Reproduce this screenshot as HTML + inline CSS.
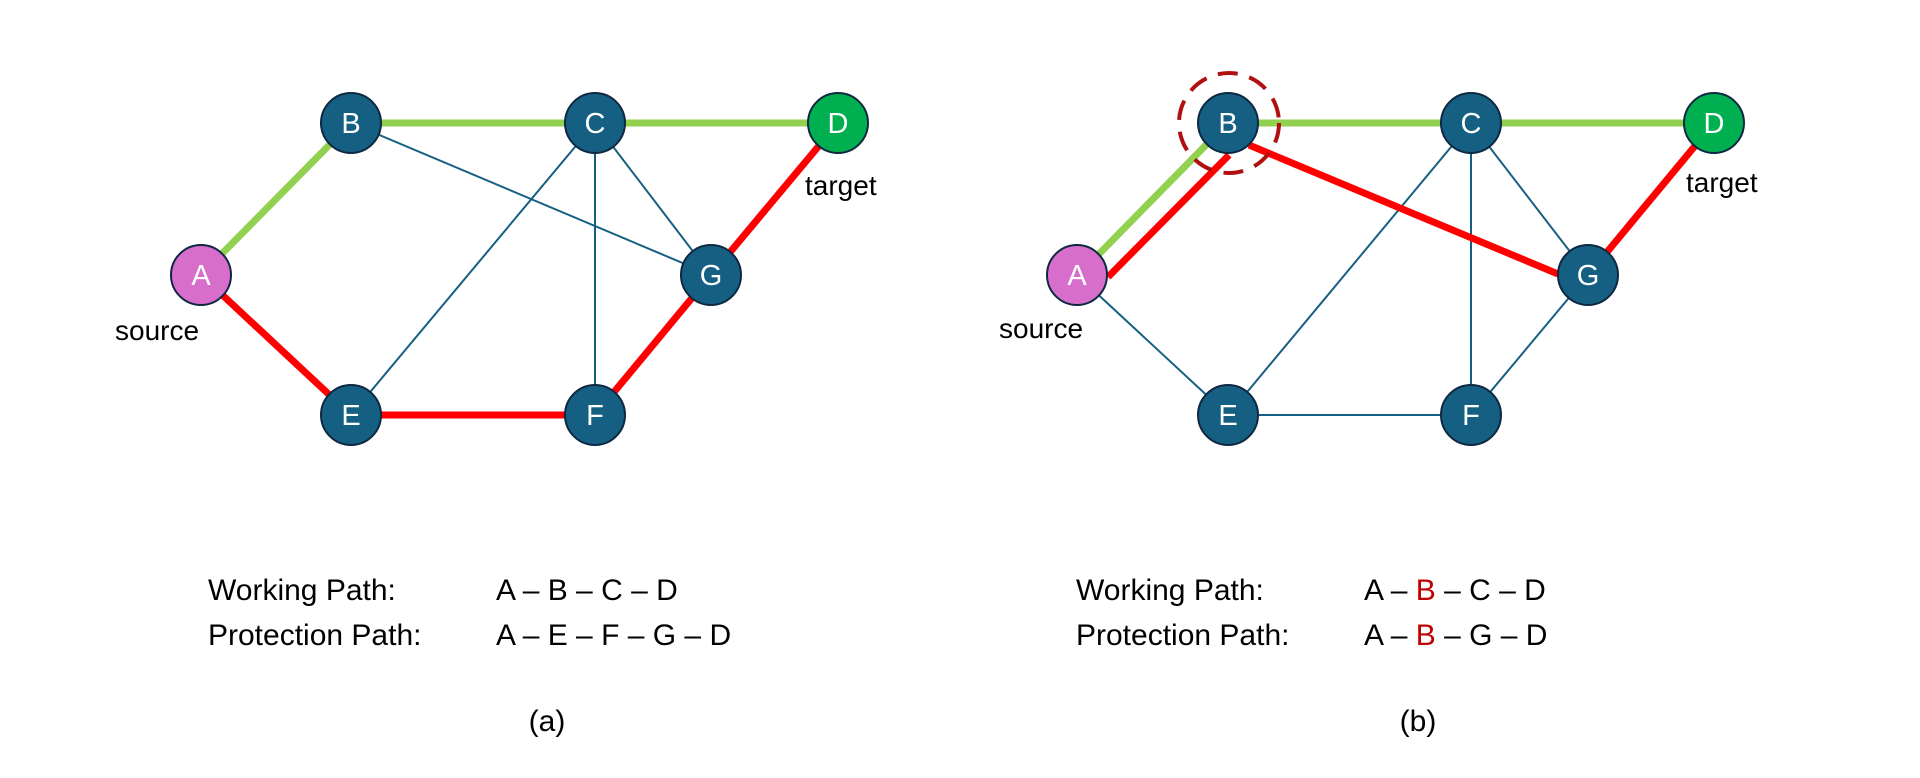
<!DOCTYPE html>
<html><head><meta charset="utf-8"><style>
html,body{margin:0;padding:0;background:#fff;}
svg{display:block;}
text{font-family:"Liberation Sans",sans-serif;}
</style></head><body>
<svg width="1920" height="778" viewBox="0 0 1920 778" xmlns="http://www.w3.org/2000/svg">
<rect width="1920" height="778" fill="#fff"/>
<!-- Panel (a) -->
<g stroke-linecap="butt">
<line x1="351" y1="123" x2="711" y2="275" stroke="#156082" stroke-width="2"/>
<line x1="595" y1="123" x2="351" y2="415" stroke="#156082" stroke-width="2"/>
<line x1="595" y1="123" x2="595" y2="415" stroke="#156082" stroke-width="2"/>
<line x1="595" y1="123" x2="711" y2="275" stroke="#156082" stroke-width="2"/>
<line x1="201" y1="275" x2="351" y2="123" stroke="#92d050" stroke-width="7"/>
<line x1="351" y1="123" x2="838" y2="123" stroke="#92d050" stroke-width="7"/>
<line x1="201" y1="275" x2="351" y2="415" stroke="#ff0000" stroke-width="7"/>
<line x1="351" y1="415" x2="595" y2="415" stroke="#ff0000" stroke-width="7"/>
<line x1="595" y1="415" x2="711" y2="275" stroke="#ff0000" stroke-width="7"/>
<line x1="711" y1="275" x2="838" y2="123" stroke="#ff0000" stroke-width="7"/>
</g>
<g stroke="#0e2841" stroke-width="2">
<circle cx="201" cy="275" r="30" fill="#d86ecc"/>
<circle cx="351" cy="123" r="30" fill="#156082"/>
<circle cx="595" cy="123" r="30" fill="#156082"/>
<circle cx="838" cy="123" r="30" fill="#00b050"/>
<circle cx="711" cy="275" r="30" fill="#156082"/>
<circle cx="351" cy="415" r="30" fill="#156082"/>
<circle cx="595" cy="415" r="30" fill="#156082"/>
</g>
<g fill="#fff" font-size="29" text-anchor="middle">
<text x="201" y="285">A</text><text x="351" y="133">B</text><text x="595" y="133">C</text>
<text x="838" y="133">D</text><text x="711" y="285">G</text><text x="351" y="425">E</text><text x="595" y="425">F</text>
</g>
<text x="115" y="340" font-size="28" fill="#000">source</text>
<text x="805" y="195" font-size="28" fill="#000">target</text>

<!-- Panel (b) -->
<g stroke-linecap="butt">
<line x1="1077" y1="275" x2="1228" y2="415" stroke="#156082" stroke-width="2"/>
<line x1="1471" y1="123" x2="1228" y2="415" stroke="#156082" stroke-width="2"/>
<line x1="1471" y1="123" x2="1471" y2="415" stroke="#156082" stroke-width="2"/>
<line x1="1471" y1="123" x2="1588" y2="275" stroke="#156082" stroke-width="2"/>
<line x1="1228" y1="415" x2="1471" y2="415" stroke="#156082" stroke-width="2"/>
<line x1="1471" y1="415" x2="1588" y2="275" stroke="#156082" stroke-width="2"/>
<line x1="1098" y1="255" x2="1208" y2="143" stroke="#92d050" stroke-width="7"/>
<line x1="1228" y1="123" x2="1714" y2="123" stroke="#92d050" stroke-width="7"/>
<line x1="1108" y1="277" x2="1229" y2="155" stroke="#ff0000" stroke-width="7"/>
<line x1="1249" y1="145" x2="1558" y2="274" stroke="#ff0000" stroke-width="7"/>
<line x1="1588" y1="275" x2="1714" y2="123" stroke="#ff0000" stroke-width="7"/>
</g>
<g stroke="#0e2841" stroke-width="2">
<circle cx="1077" cy="275" r="30" fill="#d86ecc"/>
<circle cx="1228" cy="123" r="30" fill="#156082"/>
<circle cx="1471" cy="123" r="30" fill="#156082"/>
<circle cx="1714" cy="123" r="30" fill="#00b050"/>
<circle cx="1588" cy="275" r="30" fill="#156082"/>
<circle cx="1228" cy="415" r="30" fill="#156082"/>
<circle cx="1471" cy="415" r="30" fill="#156082"/>
</g>
<circle cx="1229" cy="123" r="50" fill="none" stroke="#b01010" stroke-width="4" stroke-dasharray="20,12"/>
<g fill="#fff" font-size="29" text-anchor="middle">
<text x="1077" y="285">A</text><text x="1228" y="133">B</text><text x="1471" y="133">C</text>
<text x="1714" y="133">D</text><text x="1588" y="285">G</text><text x="1228" y="425">E</text><text x="1471" y="425">F</text>
</g>
<text x="999" y="338" font-size="28" fill="#000">source</text>
<text x="1686" y="192" font-size="28" fill="#000">target</text>

<!-- Captions -->
<g font-size="30" fill="#000">
<text x="208" y="600">Working Path:</text>
<text x="208" y="645">Protection Path:</text>
<text x="496" y="600">A – B – C – D</text>
<text x="496" y="645">A – E – F – G – D</text>
<text x="547" y="731" text-anchor="middle">(a)</text>
<text x="1076" y="600">Working Path:</text>
<text x="1076" y="645">Protection Path:</text>
<text x="1364" y="600">A – <tspan fill="#c00000">B</tspan> – C – D</text>
<text x="1364" y="645">A – <tspan fill="#c00000">B</tspan> – G – D</text>
<text x="1418" y="731" text-anchor="middle">(b)</text>
</g>
</svg>
</body></html>
